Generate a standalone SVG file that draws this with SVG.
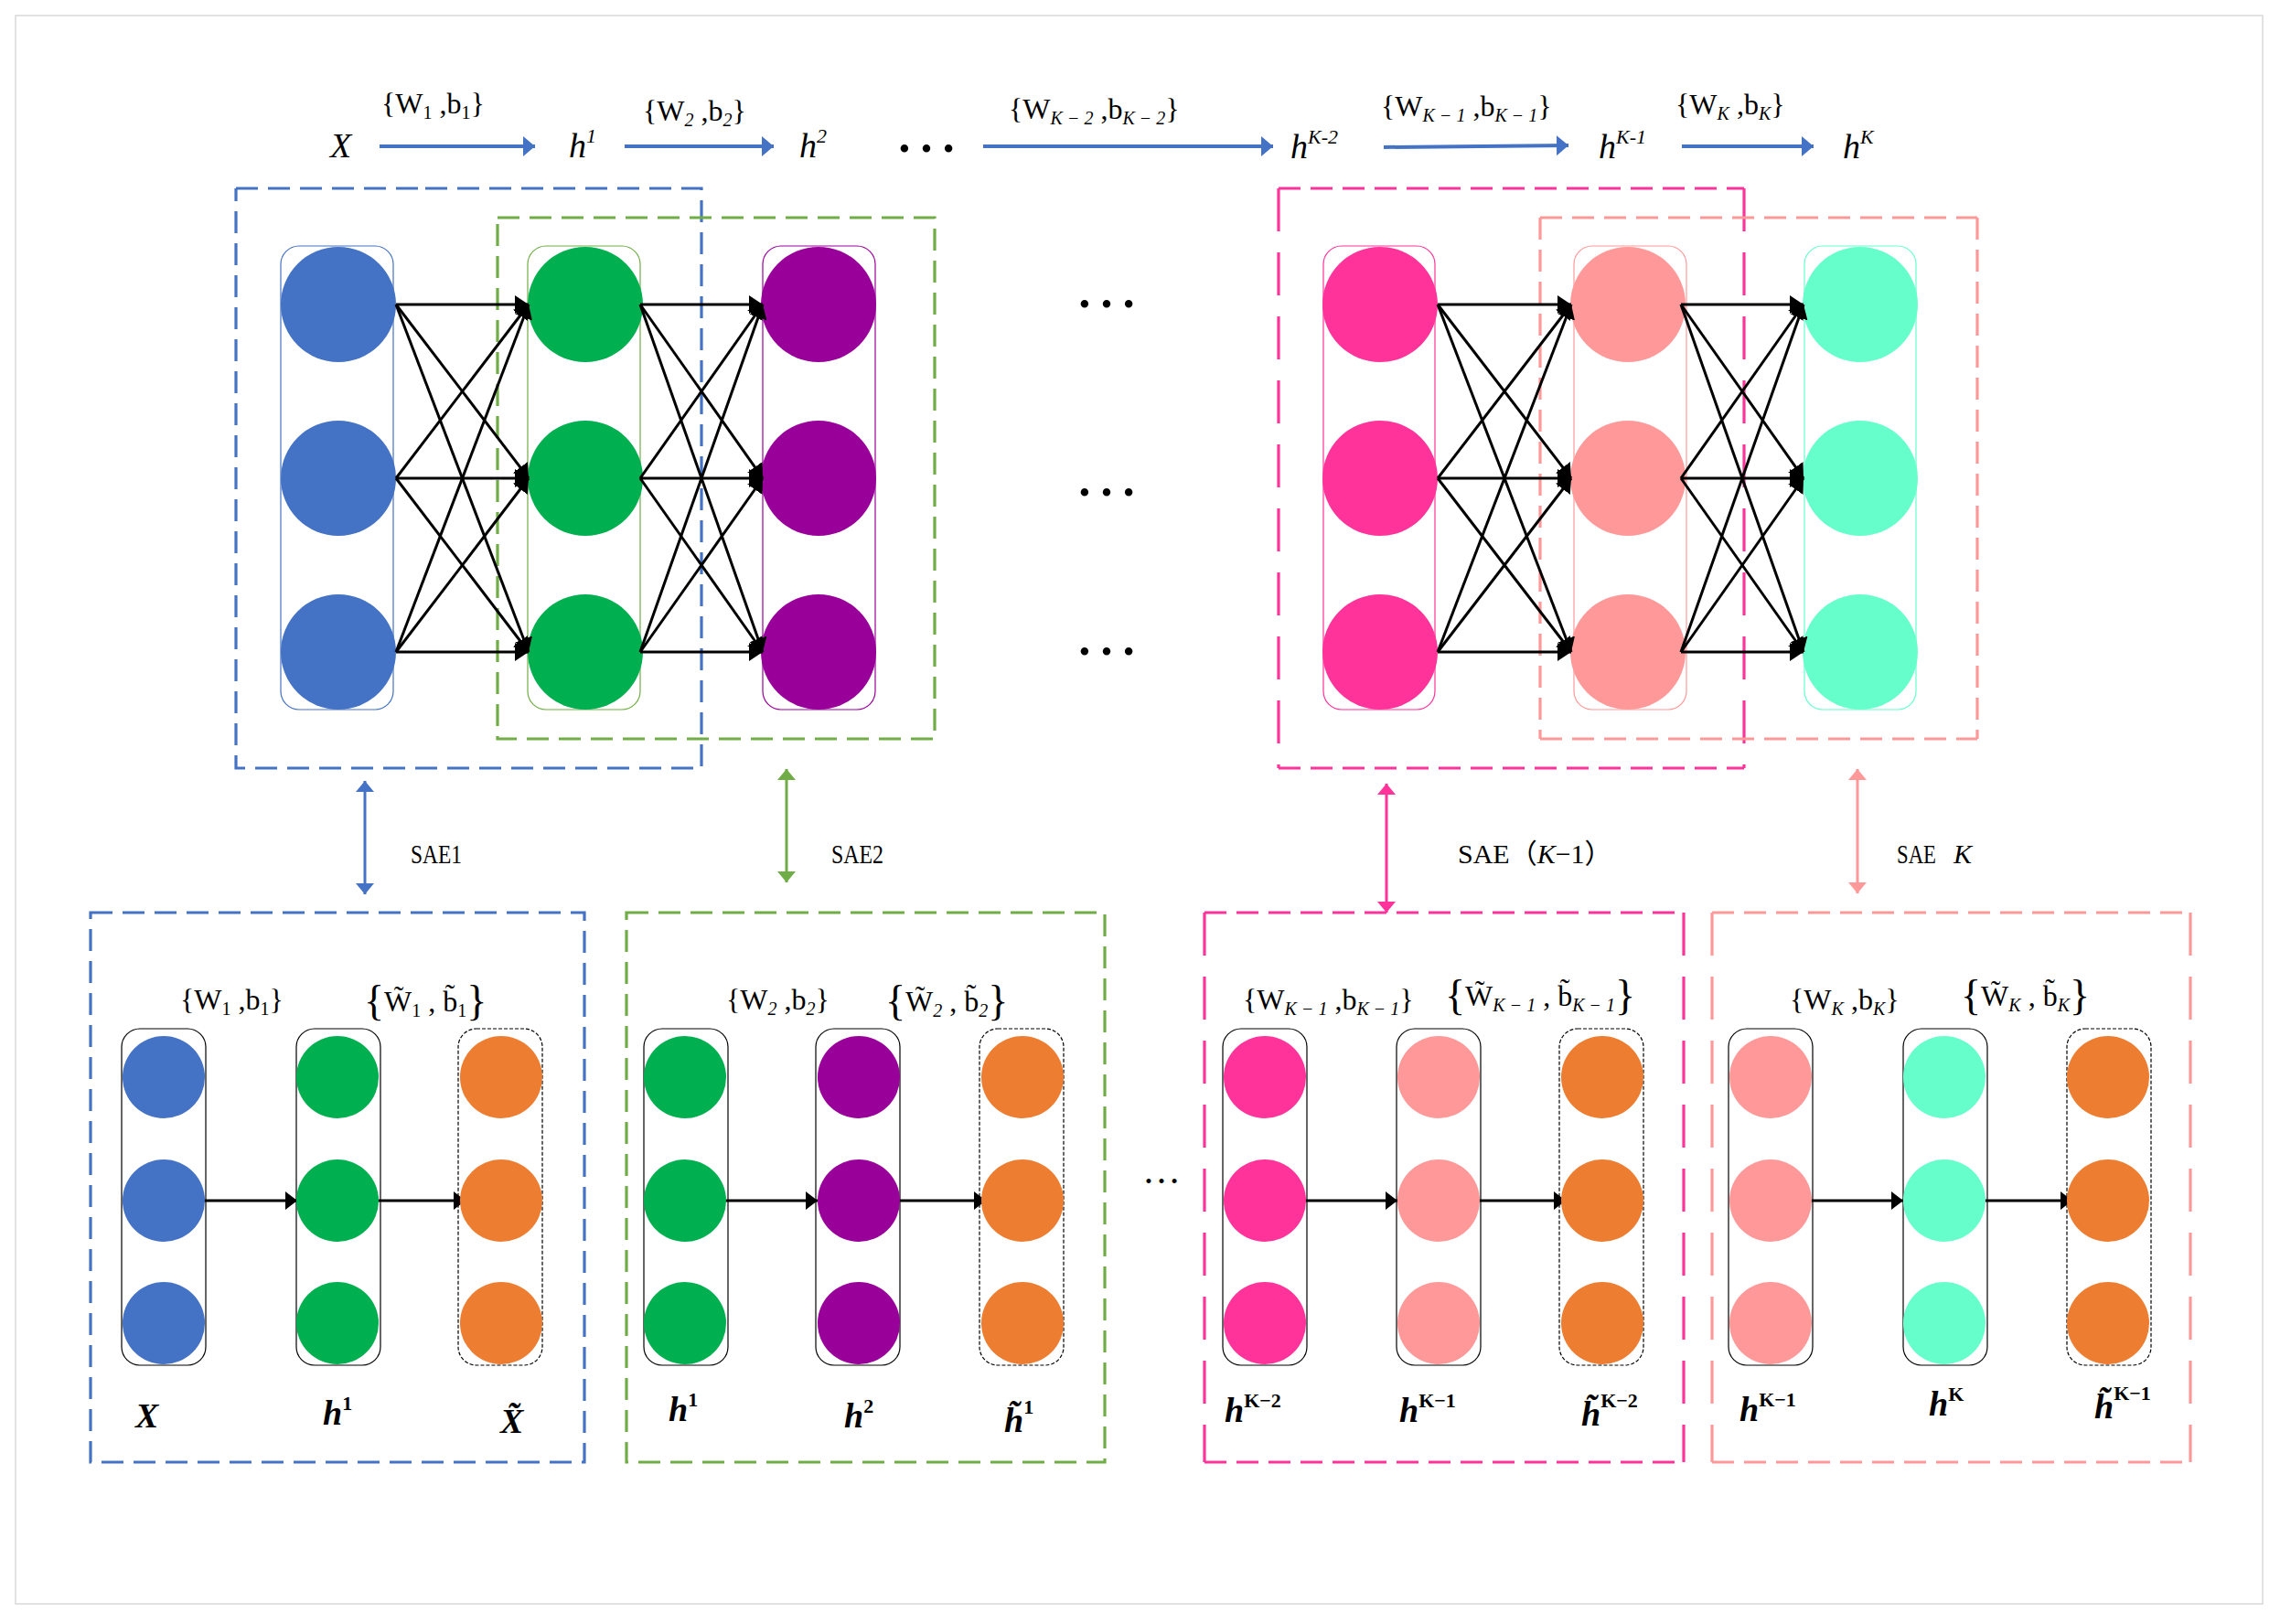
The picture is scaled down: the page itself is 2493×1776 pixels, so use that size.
<svg xmlns="http://www.w3.org/2000/svg" width="2493" height="1776" viewBox="0 0 2493 1776">
<defs>
<style>
.t{font-family:"Liberation Serif","DejaVu Serif",serif;fill:#000}
.it{font-style:italic}
.bi{font-style:italic;font-weight:bold}
.sae{font-family:"Liberation Serif","Noto Sans CJK SC",serif;font-size:30px;fill:#000}
.edge{stroke:#000;stroke-width:3;fill:none;marker-end:url(#ah)}
.bedge{stroke:#000;stroke-width:3;fill:none;marker-end:url(#ah2)}
.top{stroke:#4472C4;stroke-width:4;fill:none;marker-end:url(#ahb)}
.col{fill:none;stroke-width:1.2}
.bcol{fill:none;stroke:#000;stroke-width:1.2}
.bcold{fill:none;stroke:#000;stroke-width:1.2;stroke-dasharray:4 2}
.dash{fill:none;stroke-width:3.2;stroke-dasharray:24 11}
.dashv{fill:none;stroke-width:3.2;stroke-dasharray:47 23}
</style>
<marker id="ah" markerUnits="userSpaceOnUse" markerWidth="16" markerHeight="20" refX="15" refY="10" orient="auto"><path d="M0,0 L15,10 L0,20 z" fill="#000"/></marker>
<marker id="ah2" markerUnits="userSpaceOnUse" markerWidth="14" markerHeight="20" refX="13" refY="10" orient="auto"><path d="M0,0 L13,10 L0,20 z" fill="#000"/></marker>
<marker id="ahb" markerUnits="userSpaceOnUse" markerWidth="14" markerHeight="24" refX="13" refY="11" orient="auto"><path d="M0,0 L13,11 L0,22 z" fill="#4472C4"/></marker>
<marker id="dB" markerUnits="userSpaceOnUse" markerWidth="14" markerHeight="22" refX="12" refY="10" orient="auto-start-reverse"><path d="M0,0 L12,10 L0,20 z" fill="#4472C4"/></marker>
<marker id="dG" markerUnits="userSpaceOnUse" markerWidth="14" markerHeight="22" refX="12" refY="10" orient="auto-start-reverse"><path d="M0,0 L12,10 L0,20 z" fill="#70AD47"/></marker>
<marker id="dP" markerUnits="userSpaceOnUse" markerWidth="14" markerHeight="22" refX="12" refY="10" orient="auto-start-reverse"><path d="M0,0 L12,10 L0,20 z" fill="#FF3399"/></marker>
<marker id="dS" markerUnits="userSpaceOnUse" markerWidth="14" markerHeight="22" refX="12" refY="10" orient="auto-start-reverse"><path d="M0,0 L12,10 L0,20 z" fill="#FF9999"/></marker>
</defs>
<rect width="2493" height="1776" fill="#fff"/>
<rect x="17" y="17" width="2457" height="1737" fill="none" stroke="#D9D9D9" stroke-width="1.5"/>

<!-- top flow labels -->
<g id="top-flow">
<text class="t it" x="361" y="172" font-size="38">X</text>
<text class="t" x="417" y="124" font-size="32">{W<tspan font-size="20" dy="6">1</tspan><tspan dy="-6"> ,b</tspan><tspan font-size="20" dy="6">1</tspan><tspan dy="-6">}</tspan></text>
<text class="t it" x="622" y="172" font-size="38">h<tspan font-size="22" dy="-16">1</tspan></text>
<text class="t" x="703" y="132" font-size="32">{W<tspan font-size="20" dy="6" font-style="italic">2</tspan><tspan dy="-6"> ,b</tspan><tspan font-size="20" dy="6" font-style="italic">2</tspan><tspan dy="-6">}</tspan></text>
<text class="t it" x="874" y="172" font-size="38">h<tspan font-size="22" dy="-16">2</tspan></text>
<text class="t" x="1013" y="166" font-size="72" text-anchor="middle">…</text>
<text class="t" x="1103" y="130" font-size="32">{W<tspan font-size="20" dy="6" font-style="italic">K − 2</tspan><tspan dy="-6"> ,b</tspan><tspan font-size="20" dy="6" font-style="italic">K − 2</tspan><tspan dy="-6">}</tspan></text>
<text class="t it" x="1411" y="173" font-size="38">h<tspan font-size="22" dy="-16">K-2</tspan></text>
<text class="t" x="1510" y="127" font-size="32">{W<tspan font-size="20" dy="6" font-style="italic">K − 1</tspan><tspan dy="-6"> ,b</tspan><tspan font-size="20" dy="6" font-style="italic">K − 1</tspan><tspan dy="-6">}</tspan></text>
<text class="t it" x="1748" y="173" font-size="38">h<tspan font-size="22" dy="-16">K-1</tspan></text>
<text class="t" x="1832" y="125" font-size="32">{W<tspan font-size="20" dy="6" font-style="italic">K</tspan><tspan dy="-6"> ,b</tspan><tspan font-size="20" dy="6" font-style="italic">K</tspan><tspan dy="-6">}</tspan></text>
<text class="t it" x="2015" y="173" font-size="38">h<tspan font-size="22" dy="-16">K</tspan></text>
</g>

<!-- top dashed groupings -->
<g id="top-boxes">
<g id="box-sae1-top" stroke="#4472C4">
<path class="dash" d="M258,206 H465" stroke-width="1.6"/>
<path class="dash" d="M465,206 H767 V840 H258 V206"/>
</g>
<rect class="dash" x="544" y="238" width="478" height="570" stroke="#70AD47"/>
<g id="box-sae-k1-top" stroke="#FF3399">
<path class="dash" d="M1398,206 H1907 M1398,840 H1907"/>
<path class="dashv" d="M1398,206 V840 M1907,206 V840"/>
</g>
<g id="box-sae-k-top" stroke="#FF9999">
<path class="dash" d="M1684,238 H2162 M1684,808 H2162"/>
<path class="dash" d="M1684,238 V808 M2162,238 V808"/>
</g>
</g>

<!-- top network layers -->
<g id="layer-X">
<rect class="col" x="307" y="269" width="123" height="507" rx="20" stroke="#4472C4"/>
<circle cx="370" cy="333" r="63" fill="#4472C4"/><circle cx="370" cy="523" r="63" fill="#4472C4"/><circle cx="370" cy="713" r="63" fill="#4472C4"/>
</g>
<g id="layer-h1">
<rect class="col" x="577" y="269" width="123" height="507" rx="20" stroke="#70AD47"/>
<circle cx="640" cy="333" r="63" fill="#00B050"/><circle cx="640" cy="523" r="63" fill="#00B050"/><circle cx="640" cy="713" r="63" fill="#00B050"/>
</g>
<g id="layer-h2">
<rect class="col" x="834" y="269" width="123" height="507" rx="20" stroke="#990099"/>
<circle cx="895" cy="333" r="63" fill="#990099"/><circle cx="895" cy="523" r="63" fill="#990099"/><circle cx="895" cy="713" r="63" fill="#990099"/>
</g>
<g id="layer-hK2">
<rect class="col" x="1447" y="269" width="122" height="507" rx="20" stroke="#FF3399"/>
<circle cx="1509" cy="333" r="63" fill="#FF3399"/><circle cx="1509" cy="523" r="63" fill="#FF3399"/><circle cx="1509" cy="713" r="63" fill="#FF3399"/>
</g>
<g id="layer-hK1">
<rect class="col" x="1721" y="269" width="123" height="507" rx="20" stroke="#FF9999"/>
<circle cx="1780" cy="333" r="63" fill="#FF9999"/><circle cx="1780" cy="523" r="63" fill="#FF9999"/><circle cx="1780" cy="713" r="63" fill="#FF9999"/>
</g>
<g id="layer-hK">
<rect class="col" x="1973" y="269" width="122" height="507" rx="20" stroke="#66FFCC"/>
<circle cx="2034" cy="333" r="63" fill="#66FFCC"/><circle cx="2034" cy="523" r="63" fill="#66FFCC"/><circle cx="2034" cy="713" r="63" fill="#66FFCC"/>
</g>
<g id="mid-dots">
<text class="t" x="1210" y="336" font-size="72" text-anchor="middle">…</text>
<text class="t" x="1210" y="542" font-size="72" text-anchor="middle">…</text>
<text class="t" x="1210" y="716" font-size="72" text-anchor="middle">…</text>
</g>

<!-- connectors -->
<g id="connectors">
<line class="top" x1="415" y1="160" x2="585" y2="160"/>
<line class="top" x1="683" y1="160" x2="846" y2="160"/>
<line class="top" x1="1075" y1="160" x2="1392" y2="160"/>
<line class="top" x1="1513" y1="161" x2="1715" y2="159"/>
<line class="top" x1="1839" y1="160" x2="1983" y2="160"/>

<line class="edge" x1="433" y1="333" x2="578" y2="333"/><line class="edge" x1="433" y1="333" x2="578" y2="523"/><line class="edge" x1="433" y1="333" x2="578" y2="713"/>
<line class="edge" x1="433" y1="523" x2="578" y2="333"/><line class="edge" x1="433" y1="523" x2="578" y2="523"/><line class="edge" x1="433" y1="523" x2="578" y2="713"/>
<line class="edge" x1="433" y1="713" x2="578" y2="333"/><line class="edge" x1="433" y1="713" x2="578" y2="523"/><line class="edge" x1="433" y1="713" x2="578" y2="713"/>

<line class="edge" x1="700" y1="333" x2="834" y2="333"/><line class="edge" x1="700" y1="333" x2="834" y2="523"/><line class="edge" x1="700" y1="333" x2="834" y2="713"/>
<line class="edge" x1="700" y1="523" x2="834" y2="333"/><line class="edge" x1="700" y1="523" x2="834" y2="523"/><line class="edge" x1="700" y1="523" x2="834" y2="713"/>
<line class="edge" x1="700" y1="713" x2="834" y2="333"/><line class="edge" x1="700" y1="713" x2="834" y2="523"/><line class="edge" x1="700" y1="713" x2="834" y2="713"/>

<line class="edge" x1="1572" y1="333" x2="1718" y2="333"/><line class="edge" x1="1572" y1="333" x2="1718" y2="523"/><line class="edge" x1="1572" y1="333" x2="1718" y2="713"/>
<line class="edge" x1="1572" y1="523" x2="1718" y2="333"/><line class="edge" x1="1572" y1="523" x2="1718" y2="523"/><line class="edge" x1="1572" y1="523" x2="1718" y2="713"/>
<line class="edge" x1="1572" y1="713" x2="1718" y2="333"/><line class="edge" x1="1572" y1="713" x2="1718" y2="523"/><line class="edge" x1="1572" y1="713" x2="1718" y2="713"/>

<line class="edge" x1="1838" y1="333" x2="1972" y2="333"/><line class="edge" x1="1838" y1="333" x2="1972" y2="523"/><line class="edge" x1="1838" y1="333" x2="1972" y2="713"/>
<line class="edge" x1="1838" y1="523" x2="1972" y2="333"/><line class="edge" x1="1838" y1="523" x2="1972" y2="523"/><line class="edge" x1="1838" y1="523" x2="1972" y2="713"/>
<line class="edge" x1="1838" y1="713" x2="1972" y2="333"/><line class="edge" x1="1838" y1="713" x2="1972" y2="523"/><line class="edge" x1="1838" y1="713" x2="1972" y2="713"/>

<line x1="399" y1="854" x2="399" y2="978" stroke="#4472C4" stroke-width="3" marker-start="url(#dB)" marker-end="url(#dB)"/>
<line x1="860" y1="841" x2="860" y2="965" stroke="#70AD47" stroke-width="3" marker-start="url(#dG)" marker-end="url(#dG)"/>
<line x1="1516" y1="857" x2="1516" y2="998" stroke="#FF3399" stroke-width="3" marker-start="url(#dP)" marker-end="url(#dP)"/>
<line x1="2031" y1="841" x2="2031" y2="977" stroke="#FF9999" stroke-width="3" marker-start="url(#dS)" marker-end="url(#dS)"/>

<line class="bedge" x1="222" y1="1313" x2="325" y2="1313"/>
<line class="bedge" x1="408" y1="1313" x2="509" y2="1313"/>
<line class="bedge" x1="792" y1="1313" x2="894" y2="1313"/>
<line class="bedge" x1="977" y1="1313" x2="1078" y2="1313"/>
<line class="bedge" x1="1426" y1="1313" x2="1528" y2="1313"/>
<line class="bedge" x1="1611" y1="1313" x2="1712" y2="1313"/>
<line class="bedge" x1="1980" y1="1313" x2="2081" y2="1313"/>
<line class="bedge" x1="2164" y1="1313" x2="2266" y2="1313"/>
</g>

<!-- SAE labels -->
<g id="sae-labels">
<text class="sae" x="449" y="944" textLength="56" lengthAdjust="spacingAndGlyphs">SAE1</text>
<text class="sae" x="909" y="944" textLength="57" lengthAdjust="spacingAndGlyphs">SAE2</text>
<text class="sae" x="1594" y="944" font-size="23">SAE（<tspan font-style="italic">K</tspan>−1）</text>
<text class="sae" x="2074" y="944"><tspan textLength="43" lengthAdjust="spacingAndGlyphs">SAE</tspan><tspan x="2136" font-style="italic">K</tspan></text>
</g>

<!-- bottom boxes -->
<g id="sae1">
<rect class="dash" x="99" y="998" width="540" height="601" stroke="#4472C4"/>
<text class="t" x="197" y="1104" font-size="32">{W<tspan font-size="20" dy="6">1</tspan><tspan dy="-6"> ,b</tspan><tspan font-size="20" dy="6">1</tspan><tspan dy="-6">}</tspan></text>
<text class="t" x="398" y="1106" font-size="32"><tspan font-size="46" dy="4">{</tspan><tspan dy="-4">W̃</tspan><tspan font-size="20" dy="6">1</tspan><tspan dy="-6"> , b̃</tspan><tspan font-size="20" dy="6">1</tspan><tspan font-size="46" dy="-2">}</tspan></text>
<rect class="bcol" x="133" y="1125" width="92" height="368" rx="20"/>
<circle cx="179" cy="1178" r="45" fill="#4472C4"/><circle cx="179" cy="1313" r="45" fill="#4472C4"/><circle cx="179" cy="1447" r="45" fill="#4472C4"/>
<rect class="bcol" x="324" y="1125" width="92" height="368" rx="20"/>
<circle cx="369" cy="1178" r="45" fill="#00B050"/><circle cx="369" cy="1313" r="45" fill="#00B050"/><circle cx="369" cy="1447" r="45" fill="#00B050"/>
<rect class="bcold" x="501" y="1125" width="92" height="368" rx="20"/>
<circle cx="548" cy="1178" r="45" fill="#ED7D31"/><circle cx="548" cy="1313" r="45" fill="#ED7D31"/><circle cx="548" cy="1447" r="45" fill="#ED7D31"/>
<text class="t bi" x="148" y="1561" font-size="38">X</text>
<text class="t bi" x="353" y="1558" font-size="38">h<tspan font-size="22" dy="-16" font-style="normal">1</tspan></text>
<text class="t bi" x="547" y="1567" font-size="38">X̃</text>
</g>

<g id="sae2">
<rect class="dash" x="685" y="998" width="523" height="601" stroke="#70AD47"/>
<text class="t" x="794" y="1104" font-size="32">{W<tspan font-size="20" dy="6" font-style="italic">2</tspan><tspan dy="-6"> ,b</tspan><tspan font-size="20" dy="6" font-style="italic">2</tspan><tspan dy="-6">}</tspan></text>
<text class="t" x="968" y="1106" font-size="32"><tspan font-size="46" dy="4">{</tspan><tspan dy="-4">W̃</tspan><tspan font-size="20" dy="6" font-style="italic">2</tspan><tspan dy="-6"> , b̃</tspan><tspan font-size="20" dy="6" font-style="italic">2</tspan><tspan font-size="46" dy="-2">}</tspan></text>
<rect class="bcol" x="704" y="1125" width="92" height="368" rx="20"/>
<circle cx="749" cy="1178" r="45" fill="#00B050"/><circle cx="749" cy="1313" r="45" fill="#00B050"/><circle cx="749" cy="1447" r="45" fill="#00B050"/>
<rect class="bcol" x="892" y="1125" width="92" height="368" rx="20"/>
<circle cx="939" cy="1178" r="45" fill="#990099"/><circle cx="939" cy="1313" r="45" fill="#990099"/><circle cx="939" cy="1447" r="45" fill="#990099"/>
<rect class="bcold" x="1071" y="1125" width="92" height="368" rx="20"/>
<circle cx="1118" cy="1178" r="45" fill="#ED7D31"/><circle cx="1118" cy="1313" r="45" fill="#ED7D31"/><circle cx="1118" cy="1447" r="45" fill="#ED7D31"/>
<text class="t bi" x="731" y="1554" font-size="38">h<tspan font-size="22" dy="-16" font-style="normal">1</tspan></text>
<text class="t bi" x="923" y="1561" font-size="38">h<tspan font-size="22" dy="-16" font-style="normal">2</tspan></text>
<text class="t bi" x="1098" y="1566" font-size="38">h̃<tspan font-size="22" dy="-20" font-style="normal">1</tspan></text>
</g>

<text class="t" x="1270" y="1294" font-size="42" text-anchor="middle">…</text>

<g id="saeK1">
<path class="dash" d="M1317,998 H1841 M1317,1599 H1841" stroke="#FF3399"/>
<path class="dashv" d="M1317,998 V1599 M1841,998 V1599" stroke="#FF3399"/>
<text class="t" x="1359" y="1104" font-size="32">{W<tspan font-size="20" dy="6" font-style="italic">K − 1</tspan><tspan dy="-6"> ,b</tspan><tspan font-size="20" dy="6" font-style="italic">K − 1</tspan><tspan dy="-6">}</tspan></text>
<text class="t" x="1580" y="1100" font-size="32"><tspan font-size="46" dy="4">{</tspan><tspan dy="-4">W̃</tspan><tspan font-size="20" dy="6" font-style="italic">K − 1</tspan><tspan dy="-6"> , b̃</tspan><tspan font-size="20" dy="6" font-style="italic">K − 1</tspan><tspan font-size="46" dy="-2">}</tspan></text>
<rect class="bcol" x="1337" y="1125" width="92" height="368" rx="20"/>
<circle cx="1383" cy="1178" r="45" fill="#FF3399"/><circle cx="1383" cy="1313" r="45" fill="#FF3399"/><circle cx="1383" cy="1447" r="45" fill="#FF3399"/>
<rect class="bcol" x="1527" y="1125" width="92" height="368" rx="20"/>
<circle cx="1573" cy="1178" r="45" fill="#FF9999"/><circle cx="1573" cy="1313" r="45" fill="#FF9999"/><circle cx="1573" cy="1447" r="45" fill="#FF9999"/>
<rect class="bcold" x="1705" y="1125" width="92" height="368" rx="20"/>
<circle cx="1752" cy="1178" r="45" fill="#ED7D31"/><circle cx="1752" cy="1313" r="45" fill="#ED7D31"/><circle cx="1752" cy="1447" r="45" fill="#ED7D31"/>
<text class="t bi" x="1339" y="1555" font-size="38">h<tspan font-size="22" dy="-16" font-style="normal">K−2</tspan></text>
<text class="t bi" x="1530" y="1555" font-size="38">h<tspan font-size="22" dy="-16" font-style="normal">K−1</tspan></text>
<text class="t bi" x="1729" y="1559" font-size="38">h̃<tspan font-size="22" dy="-20" font-style="normal">K−2</tspan></text>
</g>

<g id="saeK">
<path class="dash" d="M1872,998 H2395 M1872,1599 H2395" stroke="#FF9999"/>
<path class="dashv" d="M1872,998 V1599 M2395,998 V1599" stroke="#FF9999"/>
<text class="t" x="1957" y="1104" font-size="32">{W<tspan font-size="20" dy="6" font-style="italic">K</tspan><tspan dy="-6"> ,b</tspan><tspan font-size="20" dy="6" font-style="italic">K</tspan><tspan dy="-6">}</tspan></text>
<text class="t" x="2144" y="1100" font-size="32"><tspan font-size="46" dy="4">{</tspan><tspan dy="-4">W̃</tspan><tspan font-size="20" dy="6" font-style="italic">K</tspan><tspan dy="-6"> , b̃</tspan><tspan font-size="20" dy="6" font-style="italic">K</tspan><tspan font-size="46" dy="-2">}</tspan></text>
<rect class="bcol" x="1890" y="1125" width="92" height="368" rx="20"/>
<circle cx="1936" cy="1178" r="45" fill="#FF9999"/><circle cx="1936" cy="1313" r="45" fill="#FF9999"/><circle cx="1936" cy="1447" r="45" fill="#FF9999"/>
<rect class="bcol" x="2081" y="1125" width="92" height="368" rx="20"/>
<circle cx="2126" cy="1178" r="45" fill="#66FFCC"/><circle cx="2126" cy="1313" r="45" fill="#66FFCC"/><circle cx="2126" cy="1447" r="45" fill="#66FFCC"/>
<rect class="bcold" x="2260" y="1125" width="92" height="368" rx="20"/>
<circle cx="2305" cy="1178" r="45" fill="#ED7D31"/><circle cx="2305" cy="1313" r="45" fill="#ED7D31"/><circle cx="2305" cy="1447" r="45" fill="#ED7D31"/>
<text class="t bi" x="1902" y="1554" font-size="38">h<tspan font-size="22" dy="-16" font-style="normal">K−1</tspan></text>
<text class="t bi" x="2109" y="1548" font-size="38">h<tspan font-size="22" dy="-16" font-style="normal">K</tspan></text>
<text class="t bi" x="2290" y="1551" font-size="38">h̃<tspan font-size="22" dy="-20" font-style="normal">K−1</tspan></text>
</g>
</svg>
